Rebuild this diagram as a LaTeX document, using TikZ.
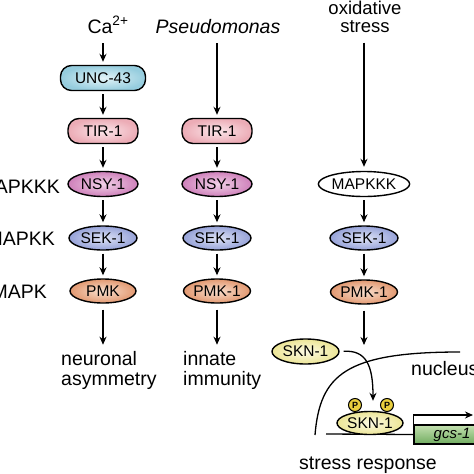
\documentclass[tikz,border=0pt]{standalone}
\usepackage{fontspec}
\setmainfont{Liberation Sans}
\usepackage{tikz}
\usetikzlibrary{shapes.geometric}
\usetikzlibrary{arrows.meta}
\definecolor{uncout}{RGB}{150,205,222}
\definecolor{uncin}{RGB}{228,244,248}
\definecolor{tirout}{RGB}{236,172,182}
\definecolor{tirin}{RGB}{251,230,234}
\definecolor{nsyout}{RGB}{206,128,186}
\definecolor{nsyin}{RGB}{242,210,232}
\definecolor{sekout}{RGB}{150,162,216}
\definecolor{sekin}{RGB}{222,227,246}
\definecolor{pmkout}{RGB}{226,152,112}
\definecolor{pmkin}{RGB}{249,224,207}
\definecolor{sknout}{RGB}{236,229,150}
\definecolor{sknin}{RGB}{253,251,228}
\definecolor{pgold}{RGB}{232,206,62}
\definecolor{gcstop}{RGB}{196,224,176}
\definecolor{gcsbot}{RGB}{112,172,96}
\tikzstyle{protein}=[draw=black, line width=1.4pt, inner sep=0pt, text=black,
    font=\fontsize{15.5}{17}\selectfont]
\tikzstyle{adaptor}=[protein, rectangle, rounded corners=11pt, minimum height=25pt]
\tikzstyle{kinase}=[protein, ellipse, minimum width=68pt, minimum height=24pt]
\tikzstyle{uncbox}=[adaptor, minimum width=85pt, shading=radial, inner color=uncin, outer color=uncout]
\tikzstyle{tirbox}=[adaptor, minimum width=70pt, shading=radial, inner color=tirin, outer color=tirout]
\tikzstyle{nsyoval}=[kinase, minimum width=70pt, minimum height=25pt, shading=radial, inner color=nsyin, outer color=nsyout]
\tikzstyle{sekoval}=[kinase, shading=radial, inner color=sekin, outer color=sekout]
\tikzstyle{pmkoval}=[kinase, minimum width=66pt, shading=radial, inner color=pmkin, outer color=pmkout]
\tikzstyle{sknoval}=[kinase, minimum width=67pt, minimum height=25pt, shading=radial, inner color=sknin, outer color=sknout]
\tikzstyle{plainoval}=[kinase, minimum width=72pt, minimum height=25pt, fill=white]
\tikzstyle{phospho}=[circle, draw=black, line width=1pt, fill=pgold, minimum size=13pt,
    inner sep=0pt, font=\fontsize{9}{9}\selectfont\bfseries]
\tikzstyle{biglabel}=[inner sep=0pt, font=\fontsize{19.5}{20}\selectfont]
\tikzstyle{signal}=[-{Stealth[length=8pt,width=7pt]}, line width=1.3pt, shorten <=3pt, shorten >=3pt]
\begin{document}
\begin{tikzpicture}[x=1pt,y=-1pt]
          \clip (0,0) rectangle (474,474);
          \node[biglabel, anchor=base] (ca) at (108,33){Ca\textsuperscript{2+}};
          \node[biglabel, anchor=base, font=\fontsize{19.5}{20}\selectfont\itshape] (pseudo) at (218,33){Pseudomonas};
          \node[biglabel, align=center, font=\fontsize{18.5}{17.5}\selectfont] (oxid) at (365,17){oxidative\\stress};
          \node[biglabel, anchor=base east] (lkkk) at (60,193){MAPKKK};
          \node[biglabel, anchor=base east] (lkk) at (55,245){MAPKK};
          \node[biglabel, anchor=base east] (lk) at (47,298){MAPK};
          \node[uncbox] (unc) at (103,78){UNC-43};
          \node[tirbox] (tira) at (103,131){TIR-1};
          \node[nsyoval] (nsya) at (103,184){NSY-1};
          \node[sekoval] (seka) at (103,238){SEK-1};
          \node[pmkoval] (pmka) at (103,291){PMK};
          \node[biglabel, align=left, anchor=west] (neur) at (61,370){neuronal\\asymmetry};
          \draw[signal, shorten <=10pt](unc |- ca.south) -- (unc);
          \draw[signal](unc) -- (tira);
          \draw[signal](tira) -- (nsya);
          \draw[signal](nsya) -- (seka);
          \draw[signal](seka) -- (pmka);
          \draw[signal, shorten <=6pt, shorten >=6pt](pmka) -- (pmka |- neur.north);
          \node[tirbox] (tirb) at (217,131){TIR-1};
          \node[nsyoval] (nsyb) at (217,184){NSY-1};
          \node[sekoval] (sekb) at (217,238){SEK-1};
          \node[pmkoval] (pmkb) at (217,291){PMK-1};
          \node[biglabel, align=left, anchor=west] (innate) at (183,370){innate\\immunity};
          \draw[signal, shorten <=10pt](tirb |- pseudo.south) -- (tirb);
          \draw[signal](tirb) -- (nsyb);
          \draw[signal](nsyb) -- (sekb);
          \draw[signal](sekb) -- (pmkb);
          \draw[signal, shorten <=6pt, shorten >=6pt](pmkb) -- (pmkb |- innate.north);
          \node[plainoval] (mkkk) at (364,184){MAPKKK};
          \node[sekoval] (sekc) at (364,238){SEK-1};
          \node[pmkoval] (pmkc) at (364,292){PMK-1};
          \coordinate (pmkend) at (364,345);
          \draw[signal, shorten <=10pt, shorten >=4pt](mkkk |- oxid.south) -- (mkkk);
          \draw[signal](mkkk) -- (sekc);
          \draw[signal](sekc) -- (pmkc);
          \draw[signal, shorten <=6pt, shorten >=0pt](pmkc) -- (pmkend);
          \draw[line width=1.3pt] (315,435) .. controls (320,375) and (345,352) .. (460,352);
          \node[biglabel, anchor=base west] (nucl) at (411,375){nucleus};
          \node[sknoval] (skna) at (305.5,351.5){SKN-1};
          \coordinate (dnastart) at (326,434);
          \node[rectangle, draw=black, line width=1.3pt, minimum width=76pt, minimum height=19pt,
                inner sep=0pt, top color=gcstop, bottom color=gcsbot,
                font=\fontsize{15}{17}\selectfont\itshape] (gcs) at (452,434.5){gcs-1};
          \coordinate (tss) at (473,415);
          \draw[line width=1.3pt](dnastart) -- (gcs.west);
          \draw[-{Stealth[length=8pt,width=7pt]}, line width=1.3pt](gcs.north west) |- (tss);
          \node[sknoval, minimum width=66pt, minimum height=23pt] (sknb) at (370,423){SKN-1};
          \node[phospho] (pa) at (355,405){P};
          \node[phospho] (pb) at (387,405){P};
          \draw[signal, shorten <=4pt, shorten >=10pt](skna.east) .. controls (366,350) and (373,365) .. ([xshift=3pt]sknb.north);
          \node[biglabel, anchor=base] (resp) at (368,469){stress response};
        \end{tikzpicture}
\end{document}
